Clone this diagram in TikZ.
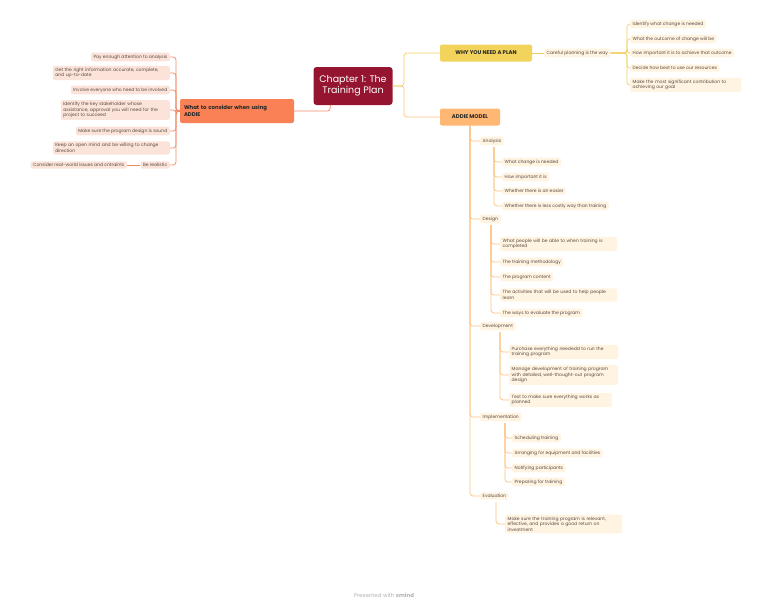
\documentclass[tikz,border=0pt]{standalone}
\usepackage{fontspec}
\setmainfont{Poppins}
\lefthyphenmin=64
\definecolor{cdark}{HTML}{951530}
\definecolor{lmain}{HTML}{FA8156}
\definecolor{lfill}{HTML}{FCE3DA}
\definecolor{lline}{HTML}{F28A66}
\definecolor{ymain}{HTML}{F2D35B}
\definecolor{yline}{HTML}{F0D060}
\definecolor{omain}{HTML}{FFB774}
\definecolor{oline}{HTML}{FBC17F}
\definecolor{rfill}{HTML}{FFF4E2}
\definecolor{txt}{HTML}{5A4A40}
\begin{document}
\begin{tikzpicture}[x=1pt,y=-1pt,
 lf/.style={font=\fontsize{4.5}{5.6}\selectfont, text=txt, inner xsep=2.5pt, inner ysep=2pt, rounded corners=2pt, align=left},
 rl/.style={lf, fill=rfill, anchor=west},
 ll/.style={lf, fill=lfill, anchor=east},
 yl/.style={draw=yline, line width=0.7pt, rounded corners=3pt},
 ol/.style={draw=oline, line width=0.7pt, rounded corners=3pt},
 rlne/.style={draw=lline, line width=0.7pt, rounded corners=3pt}]
\useasboundingbox (0,0) rectangle (768,606);
% central
\node[fill=cdark, rounded corners=3pt, minimum width=79pt, minimum height=38pt, text=white, align=center, font=\fontsize{9.5}{11}\selectfont] (c) at (353,86) {Chapter 1: The\\Training Plan};
% left main
\node[fill=lmain, rounded corners=2pt, minimum width=114pt, minimum height=24pt, text width=106pt, align=left, font=\bfseries\fontsize{5.4}{7}\selectfont, text=black!85] (L) at (237,111) {What to consider when using\\ADDIE};
\draw[rlne] (c.south west) ++(17,0) coordinate (c1) -- (c1|-L.east) -- (L.east);
\node[ll] (l1) at (170,57) {Pay enough attention to analysis};
\node[ll, text width=112pt] (l2) at (170,73) {Get the right information accurate, complete, and up-to-date};
\node[ll] (l3) at (170,90) {Involve everyone who need to be involved};
\node[ll, text width=104pt] (l4) at (170,110) {Identify the key stakeholder whose\\assistance, approval you will need for the project to succeed};
\node[ll] (l5) at (170,131) {Make sure the program design is sound};
\node[ll, text width=112pt] (l6) at (170,148) {Keep an open mind and be willing to change direction};
\node[ll] (l7) at (170,165) {Be realistic};
\node[ll] (l8) at (127,165) {Consider real-world issues and cntraints};
\coordinate (lt) at (176,111);
\foreach \n in {l1,l2,l3,l4,l5,l6,l7} \draw[rlne] (L.west) -- (lt) -- (lt|-\n.east) -- (\n.east);
\draw[rlne] (l7.west) -- (l8.east);
% right main
\node[fill=ymain, rounded corners=2pt, minimum width=92pt, minimum height=17pt, font=\bfseries\fontsize{5.4}{7}\selectfont, text=black!85] (W) at (486,53) {WHY YOU NEED A PLAN};
\node[fill=omain, rounded corners=2pt, minimum width=60pt, minimum height=17pt, font=\bfseries\fontsize{5.4}{7}\selectfont, text=black!85] (A) at (470,117) {ADDIE MODEL};
\coordinate (cr) at (404,86);
\draw[yl] (c.east) -- (cr) -- (cr|-W.west) -- (W.west);
\draw[ol] (c.east) -- (cr) -- (cr|-A.west) -- (A.west);
\node[rl] (cp) at (544,53) {Careful planning is the way};
\draw[yl] (W.east) -- (cp.west);
\coordinate (wt) at (627,53);
\node[rl] (w1) at (630,24) {Identify what change is needed};
\node[rl] (w2) at (630,39) {What the outcome of change will be};
\node[rl] (w3) at (630,53) {How important it is to achieve that outcome};
\node[rl] (w4) at (630,68) {Decide how best to use our resources};
\node[rl, text width=106pt] (w5) at (630,85) {Make the most significant contribution to achieving our goal};
\foreach \n in {w1,w2,w3,w4,w5} \draw[yl] (cp.east) -- (wt) -- (wt|-\n.west) -- (\n.west);
% ADDIE children
\coordinate (at) at (470,126);
\node[rl] (a1) at (480,141) {Analysis};
\node[rl] (a2) at (480,219) {Design};
\node[rl] (a3) at (480,326) {Development};
\node[rl] (a4) at (480,417) {Implementation};
\node[rl] (a5) at (480,496) {Evaluation};
\foreach \n in {a1,a2,a3,a4,a5} \draw[ol] (A.south) -- (at|-\n.west) -- (\n.west);
% analysis
\node[rl] (b1) at (502,162) {What change is needed};
\node[rl] (b2) at (502,177) {How important it is};
\node[rl] (b3) at (502,191) {Whether there is an easier};
\node[rl] (b4) at (502,206) {Whether there is less costly way than training};
\foreach \n in {b1,b2,b3,b4} \draw[ol] (494,147) -- (494,0|-\n.west) -- (\n.west);
% design
\node[rl, text width=112pt] (d1) at (500,244) {What people will be able to when training is completed};
\node[rl] (d2) at (500,262) {The training methodology};
\node[rl] (d3) at (500,277) {The program content};
\node[rl, text width=112pt] (d4) at (500,295) {The activities that will be used to help people learn};
\node[rl] (d5) at (500,313) {The ways to evaluate the program};
\foreach \n in {d1,d2,d3,d4,d5} \draw[ol] (491,225) -- (491,0|-\n.west) -- (\n.west);
% development
\node[rl, text width=104pt] (e1) at (509,352) {Purchase everything neededd to run the training program};
\node[rl, text width=104pt] (e2) at (509,375) {Manage development of training program with detailed, well-thought-out program design};
\node[rl, text width=98pt] (e3) at (509,400) {Test to make sure everything works as planned};
\foreach \n in {e1,e2,e3} \draw[ol] (500,332) -- (500,0|-\n.west) -- (\n.west);
% implementation
\node[rl] (f1) at (512,438) {Scheduling training};
\node[rl] (f2) at (512,453) {Arranging for equipment and facilities};
\node[rl] (f3) at (512,468) {Notifying participants};
\node[rl] (f4) at (512,482) {Preparing for training};
\foreach \n in {f1,f2,f3,f4} \draw[ol] (505,423) -- (505,0|-\n.west) -- (\n.west);
% evaluation
\node[rl, text width=112pt] (g1) at (505,524) {Make sure the training program is relevant, effective, and provides a good return on investment};
\draw[ol] (496,502) -- (496,0|-g1.west) -- (g1.west);
\node[font=\fontsize{5.5}{6}\selectfont, text=black!30] (ft) at (384,595) {Presented with \textbf{xmind}};
\end{tikzpicture}
\end{document}
